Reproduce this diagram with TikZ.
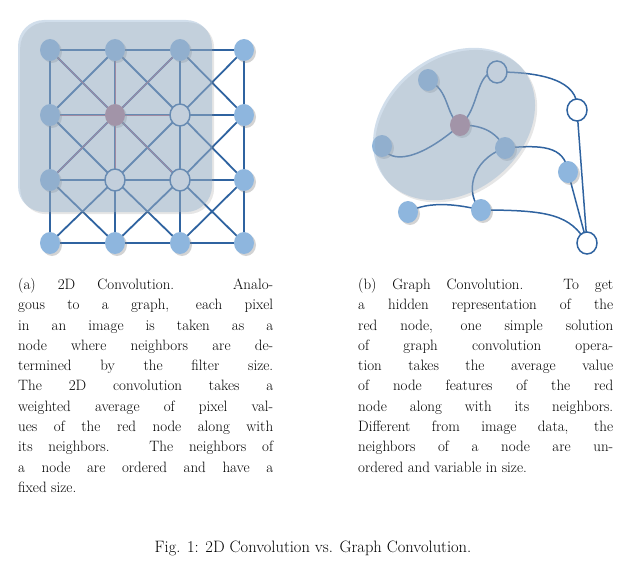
\documentclass[tikz,border=0pt]{standalone}
\usepackage{fontspec}
\usetikzlibrary{shadows,shapes.geometric}
\begin{document}
\begin{tikzpicture}[x=1pt,y=-1pt,
  edge/.style={draw=edgeblue,line width=1.8pt},
  redge/.style={draw=edgered,line width=1pt},
  fnode/.style={ellipse,minimum width=20pt,minimum height=22pt,inner sep=0pt,fill=nodeblue,draw=none,drop shadow={shadow xshift=2pt,shadow yshift=-2pt,opacity=0.35}},
  rnode/.style={fnode,fill=nodered},
  hnode/.style={ellipse,minimum width=20pt,minimum height=22pt,inner sep=0pt,fill=white,draw=edgeblue,line width=1.5pt},
  txt/.style={anchor=north west,text width=255pt,align=justify,inner sep=0pt,font=\fontsize{15}{20.3}\selectfont}]
\definecolor{edgeblue}{HTML}{2F63A0}
\definecolor{edgered}{HTML}{B0607A}
\definecolor{nodeblue}{HTML}{8EB6DE}
\definecolor{nodered}{HTML}{B47888}
\definecolor{patch}{HTML}{9AB6D2}
\useasboundingbox (0,0) rectangle (626,578);
% ---- grid
\foreach \i/\x in {0/50,1/115,2/180,3/244}{
 \foreach \j/\y in {0/50,1/115,2/180,3/243}{
  \coordinate (g\i\j) at (\x,\y);}}
\foreach \j in {0,1,2,3}{\path[edge] (g0\j) -- (g3\j); \path[edge] (g\j0) -- (g\j3);}
\foreach \i/\k in {0/1,1/2,2/3}{\foreach \j/\l in {0/1,1/2,2/3}{
  \path[edge] (g\i\j) -- (g\k\l); \path[edge] (g\k\j) -- (g\i\l);}}
\foreach \a in {00,10,20,01,21,02,12,22}{\path[redge] (g11) -- (g\a);}
\foreach \a in {00,10,20,30,01,31,02,32,03,13,23,33}{\node[fnode] (n\a) at (g\a) {};}
\node[rnode] (n11) at (g11) {};
\node[hnode] (n21) at (g21) {};
\node[hnode] (n12) at (g12) {};
\node[hnode] (n22) at (g22) {};
\fill[patch,opacity=0.45,rounded corners=26pt,drop shadow={opacity=0.2}] (18,20) rectangle (212,212);
% ---- graph
\coordinate (ga) at (428,80);
\coordinate (gh1) at (497,72);
\coordinate (gh2) at (577,110);
\coordinate (gr) at (460,125);
\coordinate (gl) at (382,146);
\coordinate (gb) at (505,148);
\coordinate (gc) at (568,172);
\coordinate (gd) at (408,212);
\coordinate (ge) at (481,210);
\coordinate (gh3) at (587,243);
\path[edge,line width=1.5pt] (ga) .. controls (450,90) and (445,115) .. (gr);
\path[edge,line width=1.5pt] (gl) .. controls (390,165) and (420,160) .. (gr);
\path[edge,line width=1.5pt] (gr) .. controls (480,110) and (475,70) .. (gh1);
\path[edge,line width=1.5pt] (gr) .. controls (480,125) and (495,130) .. (gb);
\path[edge,line width=1.5pt] (gb) .. controls (470,160) and (465,195) .. (ge);
\path[edge,line width=1.5pt] (gb) .. controls (540,145) and (565,145) .. (gc);
\path[edge,line width=1.5pt] (gc) -- (gh3);
\path[edge,line width=1.5pt] (gh1) .. controls (540,72) and (580,80) .. (gh2);
\path[edge,line width=1.5pt] (gh2) -- (gh3);
\path[edge,line width=1.5pt] (gd) .. controls (430,200) and (460,205) .. (ge);
\path[edge,line width=1.5pt] (ge) .. controls (550,210) and (570,215) .. (gh3);
\foreach \n in {ga,gl,gb,gc,gd,ge}{\node[fnode] (m\n) at (\n) {};}
\node[rnode] (mgr) at (gr) {};
\node[hnode] (mgh1) at (gh1) {};
\node[hnode] (mgh2) at (gh2) {};
\node[hnode] (mgh3) at (gh3) {};
\fill[patch,opacity=0.45,rotate around={38:(454,124)},drop shadow={opacity=0.2}] (454,124) ellipse (88 and 68);
% ---- text
\node[txt] (ta) at (18,278) {(a) 2D Convolution. Analo-\linebreak gous to a graph, each pixel\linebreak in an image is taken as a\linebreak node where neighbors are de-\linebreak termined by the filter size.\linebreak The 2D convolution takes a\linebreak weighted average of pixel val-\linebreak ues of the red node along with\linebreak its neighbors. The neighbors of\linebreak a node are ordered and have a\linebreak fixed size.};
\node[txt] (tb) at (358,278) {(b) Graph Convolution. To get\linebreak a hidden representation of the\linebreak red node, one simple solution\linebreak of graph convolution opera-\linebreak tion takes the average value\linebreak of node features of the red\linebreak node along with its neighbors.\linebreak Different from image data, the\linebreak neighbors of a node are un-\linebreak ordered and variable in size.};
\node[font=\fontsize{16.5}{20}\selectfont] (cap) at (313,548) {Fig. 1: 2D Convolution vs. Graph Convolution.};
\end{tikzpicture}
\end{document}
